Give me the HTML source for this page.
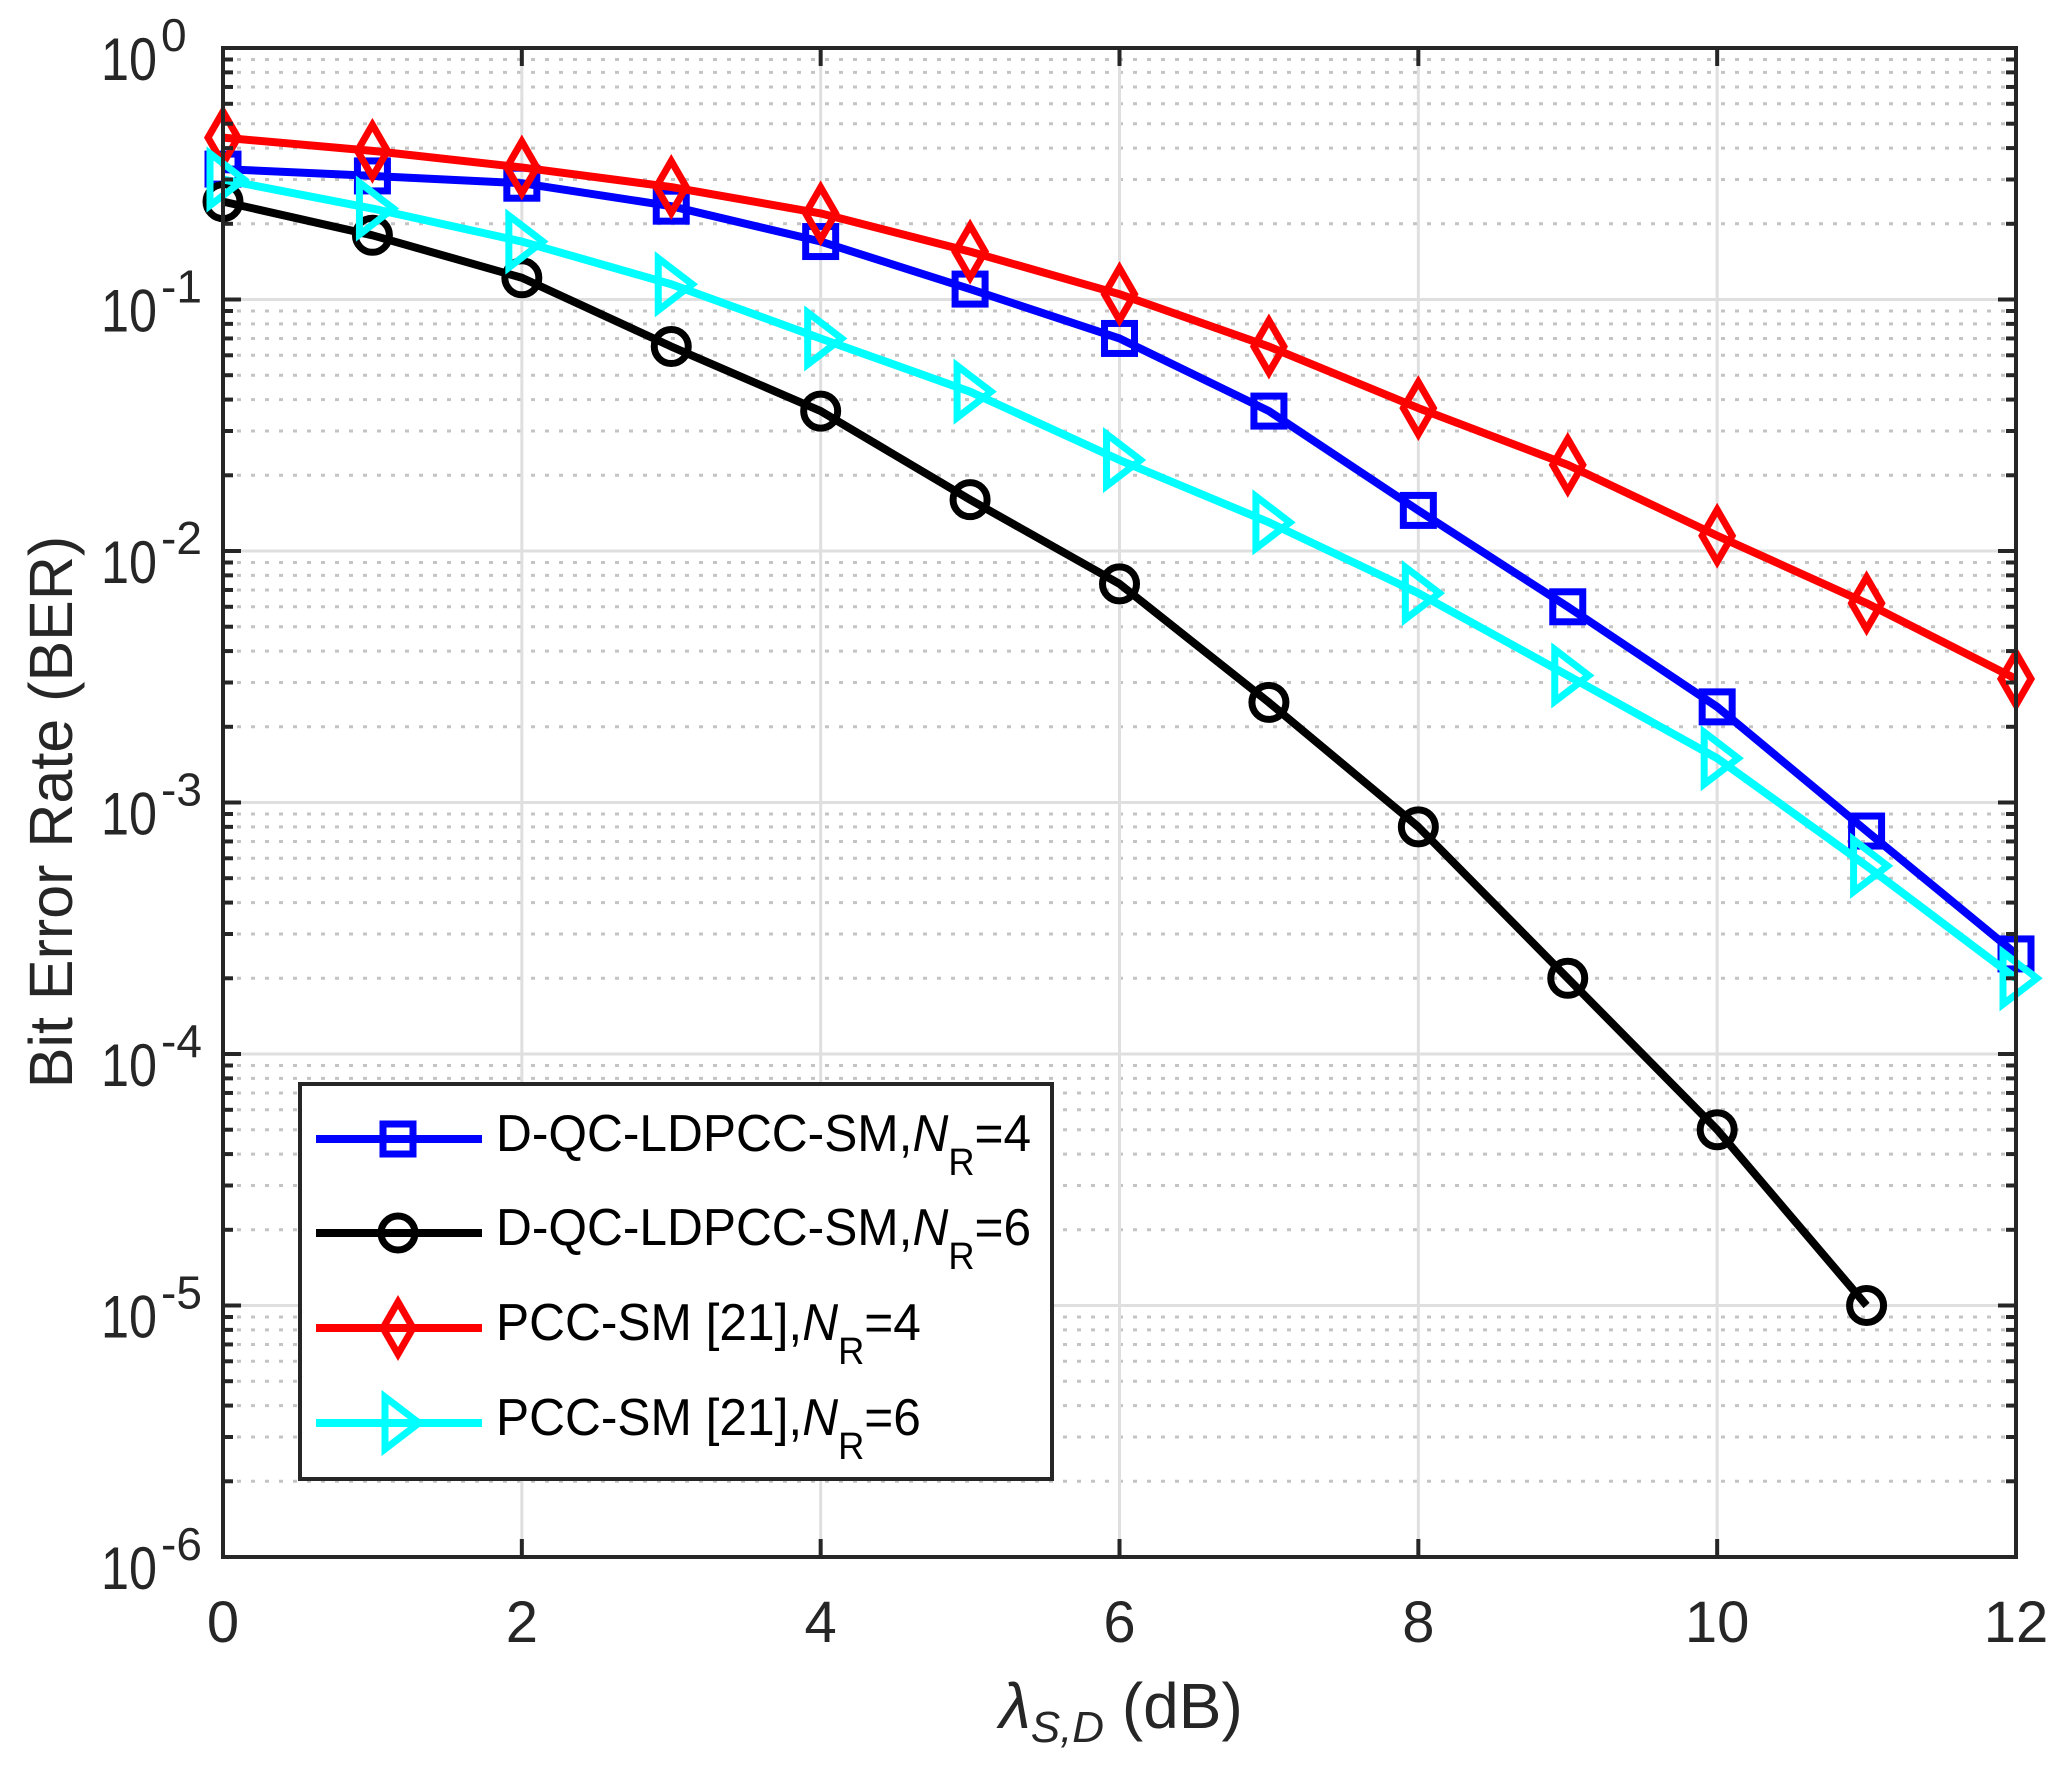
<!DOCTYPE html>
<html><head><meta charset="utf-8"><style>
html,body{margin:0;padding:0;background:#fff;}
svg{display:block;font-family:"Liberation Sans",Arial,sans-serif;}
</style></head><body>
<svg id="s" width="2056" height="1779" viewBox="0 0 2056 1779" xmlns="http://www.w3.org/2000/svg">
<rect width="2056" height="1779" fill="#fff"/>
<g id="grid"></g>
<g id="series"></g>
<g id="axes"></g>
<g id="legend"></g>
</svg>
<script>
const NS="http://www.w3.org/2000/svg";
const L=223,R=2016,T=48,B=1557;
const X=v=>L+(R-L)*v/12;
const dec=(B-T)/6;
const Y=v=>T-Math.log10(v)*dec;
function el(p,tag,attrs,txt){const e=document.createElementNS(NS,tag);for(const k in attrs)e.setAttribute(k,attrs[k]);if(txt!==undefined)e.textContent=txt;(typeof p=='string'?document.getElementById(p):p).appendChild(e);return e;}
for(let d=0;d<6;d++){for(let m=2;m<=9;m++){const y=T+(d+1)*dec-Math.log10(m)*dec;el('grid','line',{x1:L,x2:R,y1:y,y2:y,stroke:'#c4c4c4','stroke-width':3,'stroke-dasharray':'4 10'});}}
for(let d=1;d<6;d++){const y=T+d*dec;el('grid','line',{x1:L,x2:R,y1:y,y2:y,stroke:'#dfdfdf','stroke-width':3});}
for(let v=2;v<12;v+=2){el('grid','line',{x1:X(v),x2:X(v),y1:T,y2:B,stroke:'#dfdfdf','stroke-width':3});}
el('axes','rect',{x:L,y:T,width:R-L,height:B-T,fill:'none',stroke:'#262626','stroke-width':4});
for(let d=0;d<=6;d++){const y=T+d*dec;el('axes','line',{x1:L,x2:L+18,y1:y,y2:y,stroke:'#262626','stroke-width':4});el('axes','line',{x1:R,x2:R-18,y1:y,y2:y,stroke:'#262626','stroke-width':4});
 if(d<6)for(let m=2;m<=9;m++){const yy=T+(d+1)*dec-Math.log10(m)*dec;el('axes','line',{x1:L,x2:L+10,y1:yy,y2:yy,stroke:'#262626','stroke-width':4});el('axes','line',{x1:R,x2:R-10,y1:yy,y2:yy,stroke:'#262626','stroke-width':4});}
 el('axes','text',{x:157,y:y+32,'font-size':60,fill:'#262626','text-anchor':'end',textLength:56,lengthAdjust:'spacingAndGlyphs'},'10');
 el('axes','text',{x:161,y:y+3,'font-size':46,fill:'#262626'},d==0?'0':'-'+d);
}
for(let v=0;v<=12;v+=2){const x=X(v);el('axes','line',{x1:x,x2:x,y1:B,y2:B-18,stroke:'#262626','stroke-width':4});el('axes','line',{x1:x,x2:x,y1:T,y2:T+18,stroke:'#262626','stroke-width':4});
 el('axes','text',{x:x,y:1642,'font-size':58,fill:'#262626','text-anchor':'middle'},String(v));}
const xl=el('axes','text',{x:1121,y:1728,'font-size':64,fill:'#262626','text-anchor':'middle'});
xl.innerHTML='<tspan font-style="italic">λ</tspan><tspan font-style="italic" font-size="44" dy="14">S,D</tspan><tspan dy="-14"> (dB)</tspan>';
el('axes','text',{x:0,y:0,'font-size':61,fill:'#262626','text-anchor':'middle',transform:'translate(72,812) rotate(-90)'},'Bit Error Rate (BER)');
const S=[
{c:'#0000ff',m:'sq',d:[0.33,0.31,0.29,0.235,0.17,0.11,0.07,0.036,0.0145,0.006,0.0024,0.00077,0.00025]},
{c:'#000000',m:'ci',d:[0.245,0.18,0.122,0.065,0.036,0.016,0.0074,0.0025,0.0008,0.0002,5e-5,1e-5]},
{c:'#ff0000',m:'di',d:[0.44,0.39,0.335,0.28,0.22,0.155,0.105,0.065,0.037,0.022,0.0115,0.0062,0.0031]},
{c:'#00ffff',m:'tr',d:[0.3,0.23,0.17,0.115,0.07,0.043,0.023,0.013,0.0068,0.0032,0.0015,0.00056,0.0002]}];
function marker(g,m,x,y,c){const a={fill:'none',stroke:c,'stroke-width':7};
 if(m=='sq')el(g,'rect',Object.assign({x:x-15,y:y-15,width:30,height:30},a));
 if(m=='ci')el(g,'circle',Object.assign({cx:x,cy:y,r:17},a));
 if(m=='di')el(g,'polygon',Object.assign({points:`${x},${y-26} ${x+15},${y} ${x},${y+26} ${x-15},${y}`},a));
 if(m=='tr')el(g,'polygon',Object.assign({points:`${x-13},${y-26} ${x+21},${y} ${x-13},${y+26}`},a));}
for(const s of S){const pts=s.d.map((v,i)=>X(i)+','+Y(v)).join(' ');el('series','polyline',{points:pts,fill:'none',stroke:s.c,'stroke-width':8,'stroke-linejoin':'round'});
 s.d.forEach((v,i)=>marker('series',s.m,X(i),Y(v),s.c));}
el('legend','rect',{x:300,y:1084,width:752,height:395,fill:'#fff',stroke:'#262626','stroke-width':4});
const labs=[['D-QC-LDPCC-SM,','4'],['D-QC-LDPCC-SM,','6'],['PCC-SM [21],','4'],['PCC-SM [21],','6']];
const ys=[1139,1233,1328,1423];
S.forEach((s,i)=>{const y=ys[i];el('legend','line',{x1:316,x2:482,y1:y,y2:y,stroke:s.c,'stroke-width':8});marker('legend',s.m,398,y,s.c);
 const g=el('legend','g',{transform:`translate(496,${y+12}) scale(0.955,1)`});
 const t=el(g,'text',{x:0,y:0,'font-size':52,fill:'#000'});
 t.innerHTML=labs[i][0]+'<tspan font-style="italic">N</tspan><tspan font-size="38" dy="24">R</tspan><tspan dy="-24">='+labs[i][1]+'</tspan>';});
</script>
</body></html>
